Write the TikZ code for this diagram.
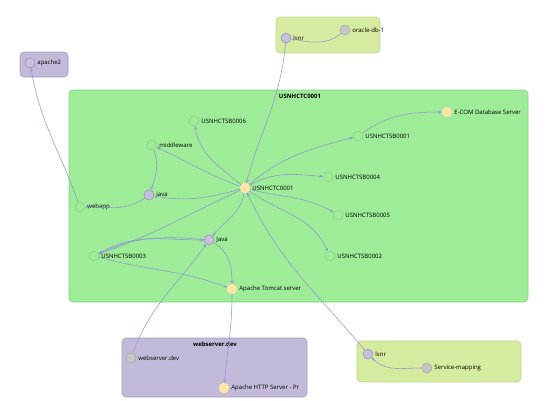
\documentclass[tikz,border=0pt]{standalone}
\usepackage{fontspec}
\setmainfont{Open Sans}
\usetikzlibrary{positioning}

\definecolor{grpgreen}{HTML}{9EEB98}
\definecolor{grpgreenline}{HTML}{86D282}
\definecolor{grppurple}{HTML}{C3BAD9}
\definecolor{grppurpleline}{HTML}{A79DC4}
\definecolor{grpolive}{HTML}{D5EBA0}
\definecolor{grpoliveline}{HTML}{BBD888}
\definecolor{edgeblue}{HTML}{8C9AD0}
\definecolor{nodeyellow}{HTML}{FCE8A4}
\definecolor{nodepurple}{HTML}{C8BEDE}

\begin{document}
\begin{tikzpicture}[x=1pt, y=1pt, font=\fontsize{6}{7}\selectfont]
    \tikzstyle{group} = [rounded corners=4pt, line width=0.6pt]
    \tikzstyle{grouptitle} = [font=\fontsize{6}{7}\selectfont\bfseries, inner sep=1pt]
    \tikzstyle{host} = [circle, minimum size=10pt, inner sep=0pt, draw=grpgreenline, fill=grpgreen, line width=0.5pt]
    \tikzstyle{app} = [circle, minimum size=10pt, inner sep=0pt, draw=orange!30, fill=nodeyellow, line width=0.5pt]
    \tikzstyle{proc} = [circle, minimum size=10pt, inner sep=0pt, draw=grppurpleline!90!black, fill=nodepurple, line width=0.5pt]
    \tikzstyle{svc} = [circle, minimum size=10pt, inner sep=0pt, draw=gray!70, fill=gray!45, line width=0.5pt]
    \tikzstyle{tag} = [inner sep=1pt]
    \tikzstyle{arrow} = [draw=edgeblue, line width=0.55pt, ->, >=stealth]

    \useasboundingbox (0,0) rectangle (555,-400);

    % groups
    \draw [group, fill=grpolive, draw=grpoliveline] (276,-17) rectangle (380,-53);
    \draw [group, fill=grppurple, draw=grppurpleline] (20,-52) rectangle (68,-77);
    \draw [group, fill=grpgreen, draw=grpgreenline] (69,-90) rectangle (528,-302);
    \draw [group, fill=grppurple, draw=grppurpleline] (122,-338) rectangle (307,-397);
    \draw [group, fill=grpolive, draw=grpoliveline] (357,-341) rectangle (521,-382);
    \node (gtc) [grouptitle] at (300,-96) {USNHCTC0001};
    \node (gweb) [grouptitle] at (215,-344) {webserver.dev};

    % nodes
    \node (lsnra) [proc] at (286,-38) {};
    \node (oradb) [svc] at (345,-30) {};
    \node (apache) [proc] at (30,-63) {};
    \node (tc) [app] at (245,-188) {};
    \node (sb6) [host] at (194,-121) {};
    \node (mw) [host] at (152,-145) {};
    \node (javaa) [proc] at (149,-195) {};
    \node (webapp) [host] at (80,-207) {};
    \node (sb1) [host] at (358,-136) {};
    \node (ecom) [app] at (447,-112) {};
    \node (sb4) [host] at (328,-177) {};
    \node (sb5) [host] at (338,-215) {};
    \node (sb2) [host] at (330,-256) {};
    \node (javab) [proc] at (209,-240) {};
    \node (sb3) [host] at (94,-256) {};
    \node (tomcat) [app] at (232,-289) {};
    \node (websrv) [svc] at (131,-358) {};
    \node (httpd) [app] at (224,-388) {};
    \node (lsnrb) [proc] at (368,-354) {};
    \node (svcmap) [svc] at (427,-368) {};

    % labels
    \node [tag, right=1pt of lsnra] {lsnr};
    \node [tag, right=1pt of oradb] {oracle-db-1};
    \node [tag, right=1pt of apache] {apache2};
    \node [tag, right=1pt of tc] {USNHCTC0001};
    \node [tag, right=1pt of sb6] {USNHCTSB0006};
    \node [tag, right=1pt of mw] {middleware};
    \node [tag, right=1pt of javaa] {java};
    \node [tag, right=1pt of webapp] {webapp};
    \node [tag, right=1pt of sb1] {USNHCTSB0001};
    \node [tag, right=1pt of ecom] {E-COM Database Server};
    \node [tag, right=1pt of sb4] {USNHCTSB0004};
    \node [tag, right=1pt of sb5] {USNHCTSB0005};
    \node [tag, right=1pt of sb2] {USNHCTSB0002};
    \node [tag, right=1pt of javab] {Java};
    \node [tag, right=1pt of sb3] {USNHCTSB0003};
    \node [tag, right=1pt of tomcat] {Apache Tomcat server};
    \node [tag, right=1pt of websrv] {webserver.dev};
    \node [tag, right=1pt of httpd] {Apache HTTP Server - Pr};
    \node [tag, right=1pt of lsnrb] {lsnr};
    \node [tag, right=1pt of svcmap] {Service-mapping};

    % connections
    \draw [arrow] (oradb) to[out=-140, in=-10] (lsnra);
    \draw [arrow] (lsnra) to[out=-95, in=75] (tc);
    \draw [arrow] (webapp) to[out=110, in=-80] (apache);
    \draw [arrow] (tc) to[out=140, in=-80] (sb6);
    \draw [arrow] (tc) to[out=160, in=-25] (mw);
    \draw [arrow] (mw) to[out=-70, in=70] (javaa);
    \draw [arrow] (tc) to[out=195, in=-10] (javaa);
    \draw [arrow] (javaa) to[out=215, in=0] (webapp);
    \draw [arrow] (tc) to[out=40, in=195] (sb1);
    \draw [arrow] (sb1) to[out=35, in=180] (ecom);
    \draw [arrow] (tc) to[out=30, in=175] (sb4);
    \draw [arrow] (tc) to[out=-15, in=150] (sb5);
    \draw [arrow] (tc) to[out=-35, in=115] (sb2);
    \draw [arrow] (tc) to[out=-100, in=50] (javab);
    \draw [arrow] (tc) to[out=205, in=20] (sb3);
    \draw [arrow] (javab) to[out=175, in=25] (sb3);
    \draw [arrow] (sb3) to[out=30, in=180] (javab);
    \draw [arrow] (sb3) to[out=-15, in=160] (tomcat);
    \draw [arrow] (javab) to[out=-30, in=90] (tomcat);
    \draw [arrow] (tomcat) to[out=-90, in=85] (httpd);
    \draw [arrow] (websrv) to[out=70, in=235] (javab);
    \draw [arrow] (lsnrb) to[out=130, in=-65] (tc);
    \draw [arrow] (svcmap) to[out=180, in=-45] (lsnrb);
\end{tikzpicture}
\end{document}
